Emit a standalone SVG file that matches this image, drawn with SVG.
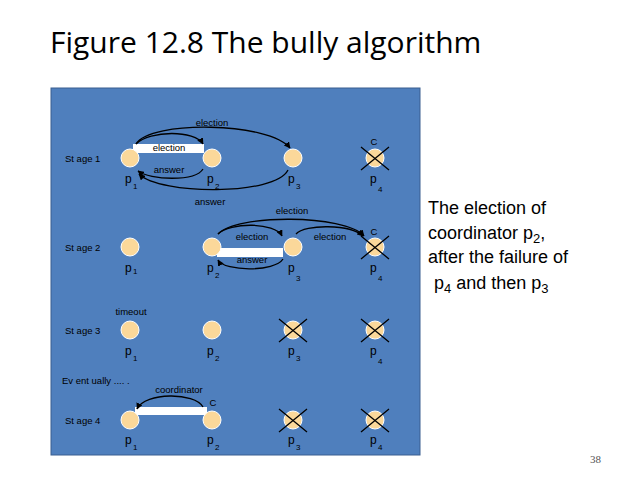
<svg xmlns="http://www.w3.org/2000/svg" width="638" height="478" viewBox="0 0 638 478">
<defs>
<marker id="ah" viewBox="0 0 10 10" refX="9" refY="5" markerWidth="5" markerHeight="5" orient="auto"><path d="M0,0L10,5L0,10z" fill="#000"/></marker>
<style>
.n{fill:#fbd89a;stroke:#fff;stroke-width:1}
.x{stroke:#000;stroke-width:1.3}
.t{font-family:"Liberation Sans",Arial,sans-serif;font-size:9.5px;fill:#000}
.p{font-family:"Liberation Sans",Arial,sans-serif;font-size:12px;fill:#000}
.s{font-family:"Liberation Sans",Arial,sans-serif;font-size:8px;fill:#000}
.a{fill:none;stroke:#000;stroke-width:1.3;marker-end:url(#ah)}
.bar{fill:#fff}
</style>
</defs>
<rect width="638" height="478" fill="#fff"/>
<text x="50" y="53" font-family="'Open Sans','Liberation Sans',sans-serif" font-size="30" fill="#000">Figure 12.8 The bully algorithm</text>
<rect x="51" y="88" width="369" height="367" fill="#4f7fbd" stroke="#3a5f90"/>
<g class="t">
<text x="65" y="162" class="t">St age 1</text>
<text x="65" y="251" class="t">St age 2</text>
<text x="65" y="334" class="t">St age 3</text>
<text x="65" y="424" class="t">St age 4</text>
<text x="62" y="384" class="t">Ev ent ually .... .</text>
<text x="131" y="315" class="t" text-anchor="middle">timeout</text>
</g>
<g id="bars">
<rect class="bar" x="133" y="144" width="71" height="9"/>
<rect class="bar" x="217" y="248" width="66" height="9"/>
<rect class="bar" x="135" y="407" width="72" height="8"/>
</g>
<g id="connectors">
<path class="a" d="M136,144 C150,120 270,122 290,148"/>
<path class="a" d="M136,144 C150,130 195,130 203,144"/>
<path class="a" d="M203,169 C195,182 150,180 138,171"/>
<path class="a" d="M288,170 C275,196 160,195 139,174"/>
<path class="a" d="M218,234 C235,214 345,214 364,236"/>
<path class="a" d="M218,234 C230,222 275,222 282,236"/>
<path class="a" d="M296,234 C305,224 350,224 363,236"/>
<path class="a" d="M283,259 C275,272 225,272 218,260"/>
<path class="a" d="M203,407 C195,392 145,392 137,409"/>
</g>
<g class="t">
<text x="212" y="126" text-anchor="middle" class="t">election</text>
<text x="169" y="151" text-anchor="middle" class="t">election</text>
<text x="169" y="173" text-anchor="middle" class="t">answer</text>
<text x="210" y="205" text-anchor="middle" class="t">answer</text>
<text x="292" y="214" text-anchor="middle" class="t">election</text>
<text x="252" y="240" text-anchor="middle" class="t">election</text>
<text x="330" y="240" text-anchor="middle" class="t">election</text>
<text x="252" y="263" text-anchor="middle" class="t">answer</text>
<text x="179" y="393" text-anchor="middle" class="t">coordinator</text>
<text x="374" y="145" text-anchor="middle" class="t">C</text>
<text x="374" y="235" text-anchor="middle" class="t">C</text>
<text x="213" y="406" text-anchor="middle" class="t">C</text>
</g>
<g id="s1">
<g id="s1p1"><circle class="n" cx="130" cy="158" r="9"/><text class="p" x="125" y="183">p</text><text class="s" x="133" y="189">1</text></g>
<g id="s1p2"><circle class="n" cx="212" cy="158" r="9"/><text class="p" x="207" y="183">p</text><text class="s" x="215" y="189">2</text></g>
<g id="s1p3"><circle class="n" cx="293" cy="158" r="9"/><text class="p" x="288" y="183">p</text><text class="s" x="296" y="189">3</text></g>
<g id="s1p4"><circle class="n" cx="375" cy="158" r="9"/><path class="x" d="M361,147L389,170M389,147L361,170"/><text class="p" x="370" y="183">p</text><text class="s" x="378" y="192">4</text></g>
</g>
<g id="s2">
<g id="s2p1"><circle class="n" cx="130" cy="247" r="9"/><text class="p" x="125" y="272">p</text><text class="s" x="133" y="274">1</text></g>
<g id="s2p2"><circle class="n" cx="212" cy="247" r="9"/><text class="p" x="207" y="272">p</text><text class="s" x="215" y="278">2</text></g>
<g id="s2p3"><circle class="n" cx="293" cy="247" r="9"/><text class="p" x="288" y="272">p</text><text class="s" x="296" y="281">3</text></g>
<g id="s2p4"><circle class="n" cx="375" cy="247" r="9"/><path class="x" d="M361,236L389,259M389,236L361,259"/><text class="p" x="370" y="272">p</text><text class="s" x="378" y="281">4</text></g>
</g>
<g id="s3">
<g id="s3p1"><circle class="n" cx="130" cy="330" r="9"/><text class="p" x="125" y="355">p</text><text class="s" x="133" y="361">1</text></g>
<g id="s3p2"><circle class="n" cx="212" cy="330" r="9"/><text class="p" x="207" y="355">p</text><text class="s" x="215" y="361">2</text></g>
<g id="s3p3"><circle class="n" cx="293" cy="330" r="9"/><path class="x" d="M279,319L307,342M307,319L279,342"/><text class="p" x="288" y="355">p</text><text class="s" x="296" y="361">3</text></g>
<g id="s3p4"><circle class="n" cx="375" cy="330" r="9"/><path class="x" d="M361,319L389,342M389,319L361,342"/><text class="p" x="370" y="355">p</text><text class="s" x="378" y="364">4</text></g>
</g>
<g id="s4">
<g id="s4p1"><circle class="n" cx="130" cy="420" r="9"/><text class="p" x="125" y="444">p</text><text class="s" x="133" y="450">1</text></g>
<g id="s4p2"><circle class="n" cx="212" cy="420" r="9"/><text class="p" x="207" y="444">p</text><text class="s" x="215" y="450">2</text></g>
<g id="s4p3"><circle class="n" cx="293" cy="420" r="9"/><path class="x" d="M279,409L307,432M307,409L279,432"/><text class="p" x="288" y="444">p</text><text class="s" x="296" y="450">3</text></g>
<g id="s4p4"><circle class="n" cx="375" cy="420" r="9"/><path class="x" d="M361,409L389,432M389,409L361,432"/><text class="p" x="370" y="444">p</text><text class="s" x="378" y="450">4</text></g>
</g>
<g font-family="'Liberation Sans',Arial,sans-serif" font-size="18" fill="#000">
<text x="428" y="214">The election of</text>
<text x="428" y="239">coordinator p<tspan font-size="13" dy="4">2</tspan><tspan dy="-4">,</tspan></text>
<text x="428" y="263">after the failure of</text>
<text x="434" y="289">p<tspan font-size="13" dy="4">4</tspan><tspan dy="-4"> and then p</tspan><tspan font-size="13" dy="4">3</tspan></text>
</g>
<text x="590" y="463" font-family="'Liberation Serif',serif" font-size="11" fill="#555">38</text>
</svg>
